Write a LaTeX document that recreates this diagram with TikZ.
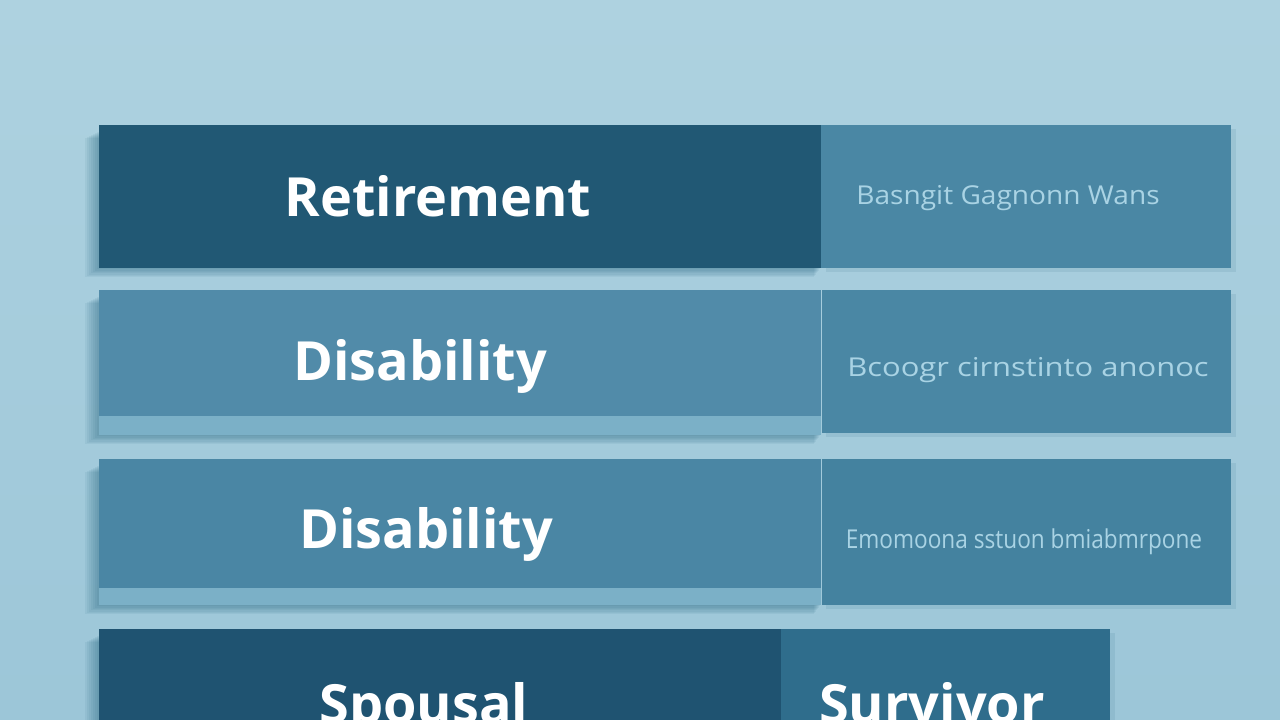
\documentclass[tikz,border=0pt]{standalone}
\usepackage{fontspec}
\usepackage{graphicx}
\setmainfont{Open Sans}
\definecolor{bgtop}{HTML}{AED2E0}
\definecolor{bgbot}{HTML}{9CC6D8}
\definecolor{darkbox}{HTML}{215874}
\definecolor{darkbox2}{HTML}{1F5371}
\definecolor{midbox}{HTML}{518BA9}
\definecolor{midbox3}{HTML}{4A86A4}
\definecolor{panel}{HTML}{4A87A4}
\definecolor{panel3}{HTML}{44829F}
\definecolor{panel4}{HTML}{2F6D8C}
\definecolor{strip}{HTML}{7BB0C7}
\definecolor{shadowc}{HTML}{1E5F7A}
\definecolor{faint}{HTML}{A9D3E4}
\tikzset{
  box/.style={draw=none, anchor=north west, inner sep=0pt, outer sep=0pt},
  title/.style={text=white, font=\fontsize{54}{58}\selectfont\bfseries, anchor=base, inner sep=0pt},
  blur/.style={text=faint, font=\fontsize{26}{30}\selectfont, anchor=base, inner sep=0pt},
}
\newcommand{\myshadow}[4]{%
  \foreach \k in {1,...,7}{%
    \fill[shadowc, opacity=0.07] (#1-\k*2, #2+6+\k) rectangle (#3-\k, #4+\k*1.3);
  }%
}
\begin{document}
\begin{tikzpicture}[x=1pt,y=-1pt]
\useasboundingbox (0,0) rectangle (1280,720);
\clip (0,0) rectangle (1280,720);
\shade[top color=bgtop, bottom color=bgbot] (0,0) rectangle (1280,720);

% shadows
\myshadow{99}{125}{821}{268}
\myshadow{99}{290}{821}{435}
\myshadow{99}{459}{821}{605}
\myshadow{99}{629}{781}{730}
\foreach \y/\h in {125/268,290/433,459/605}{
  \fill[shadowc, opacity=0.10] (826,\y+4) rectangle (1236,\h+4);
}
\fill[shadowc, opacity=0.10] (786,633) rectangle (1115,730);

% row 1
\node[box, fill=darkbox, minimum width=722pt, minimum height=143pt] (ret) at (99,125) {};
\node[box, fill=panel, minimum width=410pt, minimum height=143pt] (retinfo) at (821,125) {};
\node[title] (rett) at (438,216) {Retirement};
\node[blur] (retb) at (1008,204) {\scalebox{1.08}[1]{Basngit Gagnonn Wans}};

% row 2
\node[box, fill=midbox, minimum width=722pt, minimum height=126pt] (dis1) at (99,290) {};
\node[box, fill=strip, minimum width=722pt, minimum height=19pt] (dis1s) at (99,416) {};
\node[box, fill=panel, minimum width=409pt, minimum height=143pt] (dis1info) at (822,290) {};
\node[title] (dis1t) at (420,380) {Disability};
\node[blur] (dis1b) at (1028,376) {\scalebox{1.19}[1]{Bcoogr cirnstinto anonoc}};

% row 3
\node[box, fill=midbox3, minimum width=722pt, minimum height=129pt] (dis2) at (99,459) {};
\node[box, fill=strip, minimum width=722pt, minimum height=17pt] (dis2s) at (99,588) {};
\node[box, fill=panel3, minimum width=409pt, minimum height=146pt] (dis2info) at (822,459) {};
\node[title] (dis2t) at (426,548) {Disability};
\node[blur] (dis2b) at (1024,548) {\scalebox{0.87}[1]{Emomoona sstuon bmiabmrpone}};

% row 4
\node[box, fill=darkbox2, minimum width=682pt, minimum height=100pt] (sp) at (99,629) {};
\node[box, fill=panel4, minimum width=329pt, minimum height=100pt] (sv) at (781,629) {};
\node[title] (spt) at (424,723) {Spousal};
\node[title] (svt) at (932,723) {Survivor};
\end{tikzpicture}
\end{document}
